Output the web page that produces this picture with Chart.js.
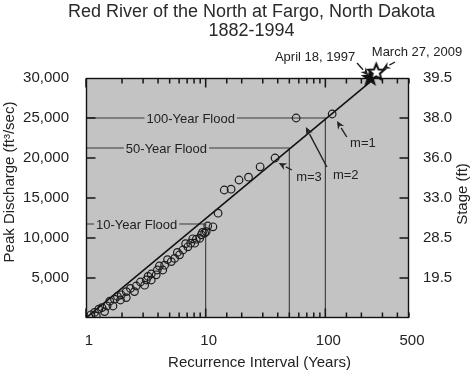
<!DOCTYPE html>
<html>
<head>
<meta charset="utf-8">
<script src="https://cdn.jsdelivr.net/npm/chart.js@4"></script>
<style>
  html, body { margin: 0; padding: 0; background: #fff; }
</style>
</head>
<body>
<canvas id="chart" width="474" height="372"></canvas>
<script>
// ---- data ----
// annual peaks (recurrence interval in years, discharge in ft3/s)
const peakT = [114, 57, 38, 28.5, 22.8, 19, 16.3, 14.3, 12.7, 11.5, 10.4, 10.1, 9.8, 9.4, 9.2, 8.9,
  8.35, 8.1, 7.8, 7.5, 7.1, 6.8, 6.45, 6.05, 5.8, 5.5, 5.16, 4.8, 4.54, 4.38, 4.1, 3.94, 3.86, 3.51, 3.51,
  3.3, 3.19, 3.09, 2.85, 2.63, 2.54, 2.35, 2.17, 2.17, 1.97, 1.94, 1.83, 1.73, 1.68, 1.58, 1.5, 1.43,
  1.36, 1.28, 1.22, 1.18, 1.1];
const peakQ = [25500, 25000, 20000, 18900, 17600, 17250, 16100, 16000, 13100, 11400, 11500, 10800, 10600, 10700, 10400, 9950,
  9850, 9350, 9900, 9350, 8900, 9300, 8500, 7900, 8200, 7450, 7050, 7300, 6600, 6000, 6500, 6000, 5400, 5500, 4750,
  5200, 4750, 4100, 4500, 4000, 3300, 3700, 3300, 2550, 2900, 2250, 2700, 2350, 1500, 2100, 1500, 800,
  1300, 1100, 250, 700, 400];

// fitted frequency line
const fitT = [1, 250];
const fitQ = [0, 29800];

// design floods
const floodT = [10, 50, 100];
const floodQ = [11750, 21250, 25000];
const floodNames = ['10-Year Flood', '50-Year Flood', '100-Year Flood'];

// later floods (stars)
const flood1997 = { T: 237, Q: 30000 };
const flood2009 = { T: 266, Q: 30700 };

// axis ticks
const qTicks = [5000, 10000, 15000, 20000, 25000, 30000];
const stageLabels = ['19.5', '28.5', '33.0', '36.0', '38.0', '39.5'];
const xLabelValues = [1, 10, 100, 500];

// annotation anchors (data units)
const floodLabelT = [2.65, 4.7, 7.5];
const noteText = ['m=1', 'm=2', 'm=3', 'April 18, 1997', 'March 27, 2009'];
const noteAt = [[206, 21875], [148, 17875], [73, 17625], [82, 32600], [583, 33250]];
const arrowFrom = [[151, 22625], [103, 18875], [52.5, 18500], [184, 31875], [382, 32000]];
const arrowTo = [[125, 24625], [68.7, 23875], [40.8, 19375], [229, 30300], [300, 31100]];

// ---- styling ----
const FONT = '"Liberation Sans", Arial, sans-serif';
const INK = '#222';
const PLOT_BG = '#c3c3c3';
const TICK_INK = '#151515';

function makeStar(outer, inner, fill, stroke, lw) {
  const size = Math.ceil(outer * 2 + 6);
  const c = document.createElement('canvas');
  c.width = size; c.height = size;
  const g = c.getContext('2d');
  g.translate(size / 2, size / 2);
  g.beginPath();
  for (let i = 0; i < 10; i++) {
    const r = i % 2 ? inner : outer;
    const a = -Math.PI / 2 + i * Math.PI / 5;
    g.lineTo(r * Math.cos(a), r * Math.sin(a));
  }
  g.closePath();
  g.fillStyle = fill;
  g.fill();
  if (stroke) { g.strokeStyle = stroke; g.lineWidth = lw; g.stroke(); }
  return c;
}

function pts(xs, ys) {
  return xs.map((x, i) => ({ x: x, y: ys[i] }));
}

function seg(ctx, x0, y0, x1, y1) {
  ctx.beginPath();
  ctx.moveTo(x0, y0);
  ctx.lineTo(x1, y1);
  ctx.stroke();
}

// datasets: lower "order" ends up on top
const floodSets = floodT.map((t, i) => ({
  data: [{ x: 1, y: floodQ[i] }, { x: t, y: floodQ[i] }, { x: t, y: 0 }],
  showLine: true,
  borderColor: '#3a3a3a',
  borderWidth: 1.1,
  pointRadius: 0,
  fill: false,
  order: 5
}));

// ---- plugins ----
const frame = {
  id: 'frame',
  beforeDatasetsDraw(chart) {
    const { ctx, chartArea: a } = chart;
    ctx.save();
    ctx.fillStyle = PLOT_BG;
    ctx.fillRect(a.left, a.top, a.width, a.height);
    ctx.restore();
  },
  afterDatasetsDraw(chart) {
    const { ctx, chartArea: a, scales } = chart;
    const sx = scales.x, sy = scales.y;
    ctx.save();

    // frame
    ctx.strokeStyle = '#111';
    ctx.lineWidth = 1.4;
    const left = Math.round(a.left) + 0.5, right = Math.round(a.right) - 0.5;
    const top = Math.round(a.top) + 0.5, bottom = Math.round(a.bottom) - 0.5;
    ctx.strokeRect(left, top, right - left, bottom - top);

    // inward ticks
    ctx.strokeStyle = TICK_INK;
    ctx.lineWidth = 1.5;
    const xTickValues = sx.ticks.map(tk => tk.value);
    xTickValues.forEach(v => {
      const lg = Math.log10(v);
      const major = Math.abs(lg - Math.round(lg)) < 1e-9;
      const len = major ? 9 : 5;
      const px = sx.getPixelForValue(v);
      seg(ctx, px, bottom, px, bottom - len);
      seg(ctx, px, top, px, top + len);
    });
    qTicks.forEach(v => {
      if (v >= 30000) return;
      const py = sy.getPixelForValue(v);
      seg(ctx, left, py, left + 9, py);
      seg(ctx, right, py, right - 9, py);
    });

    // flood labels sit on the horizontal lines
    ctx.font = '13px ' + FONT;
    ctx.textBaseline = 'middle';
    ctx.textAlign = 'center';
    floodNames.forEach((name, i) => {
      const x = sx.getPixelForValue(floodLabelT[i]);
      const y = sy.getPixelForValue(floodQ[i]);
      const w = ctx.measureText(name).width;
      ctx.fillStyle = PLOT_BG;
      ctx.fillRect(x - w / 2 - 2, y - 7, w + 4, 14);
      ctx.fillStyle = INK;
      ctx.fillText(name, x, y + 1);
    });

    // arrows + notes
    ctx.strokeStyle = INK;
    ctx.fillStyle = INK;
    ctx.lineWidth = 1.4;
    arrowFrom.forEach((f, i) => {
      const x0 = sx.getPixelForValue(f[0]), y0 = sy.getPixelForValue(f[1]);
      const x1 = sx.getPixelForValue(arrowTo[i][0]), y1 = sy.getPixelForValue(arrowTo[i][1]);
      const ang = Math.atan2(y1 - y0, x1 - x0);
      const hl = 8, hw = 3.6;
      const bx = x1 - hl * Math.cos(ang), by = y1 - hl * Math.sin(ang);
      seg(ctx, x0, y0, bx, by);
      ctx.beginPath();
      ctx.moveTo(x1, y1);
      ctx.lineTo(bx + hw * Math.sin(ang), by - hw * Math.cos(ang));
      ctx.lineTo(x1 - (hl - 2.5) * Math.cos(ang), y1 - (hl - 2.5) * Math.sin(ang));
      ctx.lineTo(bx - hw * Math.sin(ang), by + hw * Math.cos(ang));
      ctx.closePath();
      ctx.fill();
    });
    noteText.forEach((txt, i) => {
      ctx.fillText(txt, sx.getPixelForValue(noteAt[i][0]), sy.getPixelForValue(noteAt[i][1]));
    });
    ctx.restore();
  },
  afterDraw(chart) {
    const { ctx, chartArea: a } = chart;
    const cx = (a.left + a.right) / 2;
    const cy = (a.top + a.bottom) / 2;
    ctx.save();
    ctx.fillStyle = '#2a2a2a';
    ctx.textAlign = 'center';
    ctx.textBaseline = 'alphabetic';
    ctx.font = '18px ' + FONT;
    ctx.fillText('Red River of the North at Fargo, North Dakota', cx + 4, 17);
    ctx.fillText('1882-1994', cx + 4, 36);
    ctx.fillStyle = INK;
    ctx.font = '15px ' + FONT;
    ctx.textBaseline = 'middle';
    ctx.fillText('Recurrence Interval (Years)', cx + 12, a.bottom + 45);
    ctx.save();
    ctx.translate(a.left - 76, cy - 16);
    ctx.rotate(-Math.PI / 2);
    ctx.fillText('Peak Discharge (ft\u00B3/sec)', 0, 0);
    ctx.restore();
    ctx.save();
    ctx.translate(a.right + 54, cy - 4);
    ctx.rotate(-Math.PI / 2);
    ctx.fillText('Stage (ft)', 0, 0);
    ctx.restore();
    ctx.restore();
  }
};

const tickFont = { family: FONT, size: 15 };

new Chart(document.getElementById('chart'), {
  type: 'scatter',
  data: {
    datasets: [
      {
        data: [{ x: flood2009.T, y: flood2009.Q }],
        pointStyle: makeStar(8.5, 3.8, '#fff', '#111', 2),
        pointRadius: 16,
        clip: false,
        order: 0
      },
      {
        data: [{ x: flood1997.T, y: flood1997.Q }],
        pointStyle: makeStar(10, 4, '#111', null, 0),
        pointRadius: 16,
        clip: false,
        order: 1
      },
      {
        data: pts(peakT, peakQ),
        pointStyle: 'circle',
        pointRadius: 3.8,
        pointBorderWidth: 1.2,
        pointBorderColor: '#1c1c1c',
        pointBackgroundColor: 'rgba(0,0,0,0)',
        order: 2
      },
      {
        data: pts(fitT, fitQ),
        showLine: true,
        borderColor: '#111',
        borderWidth: 1.6,
        pointRadius: 0,
        order: 3
      },
      ...floodSets
    ]
  },
  options: {
    responsive: false,
    animation: false,
    layout: { padding: { top: 78, left: 0, right: 0, bottom: 0 } },
    plugins: {
      legend: { display: false },
      tooltip: { enabled: false },
      title: { display: false }
    },
    scales: {
      x: {
        type: 'logarithmic',
        min: 1,
        max: 500,
        grid: { display: false },
        border: { display: false },
        afterFit: s => { s.height = 54; },
        ticks: {
          color: INK,
          font: tickFont,
          padding: 6,
          labelOffset: 3,
          autoSkip: false,
          maxRotation: 0,
          callback: v => (xLabelValues.includes(v) ? String(v) : '')
        }
      },
      y: {
        type: 'linear',
        position: 'left',
        min: 0,
        max: 30000,
        grid: { display: false },
        border: { display: false },
        afterFit: s => { s.width = 86; },
        afterBuildTicks: s => { s.ticks = qTicks.map(v => ({ value: v })); },
        ticks: {
          color: INK,
          font: tickFont,
          padding: 9,
          callback: v => v.toLocaleString('en-US')
        }
      },
      y2: {
        type: 'linear',
        position: 'right',
        min: 0,
        max: 30000,
        grid: { display: false },
        border: { display: false },
        afterFit: s => { s.width = 65; },
        afterBuildTicks: s => { s.ticks = qTicks.map(v => ({ value: v })); },
        ticks: {
          color: INK,
          font: tickFont,
          padding: 6,
          callback: (v, i) => stageLabels[i]
        }
      }
    }
  },
  plugins: [frame]
});
</script>
</body>
</html>
